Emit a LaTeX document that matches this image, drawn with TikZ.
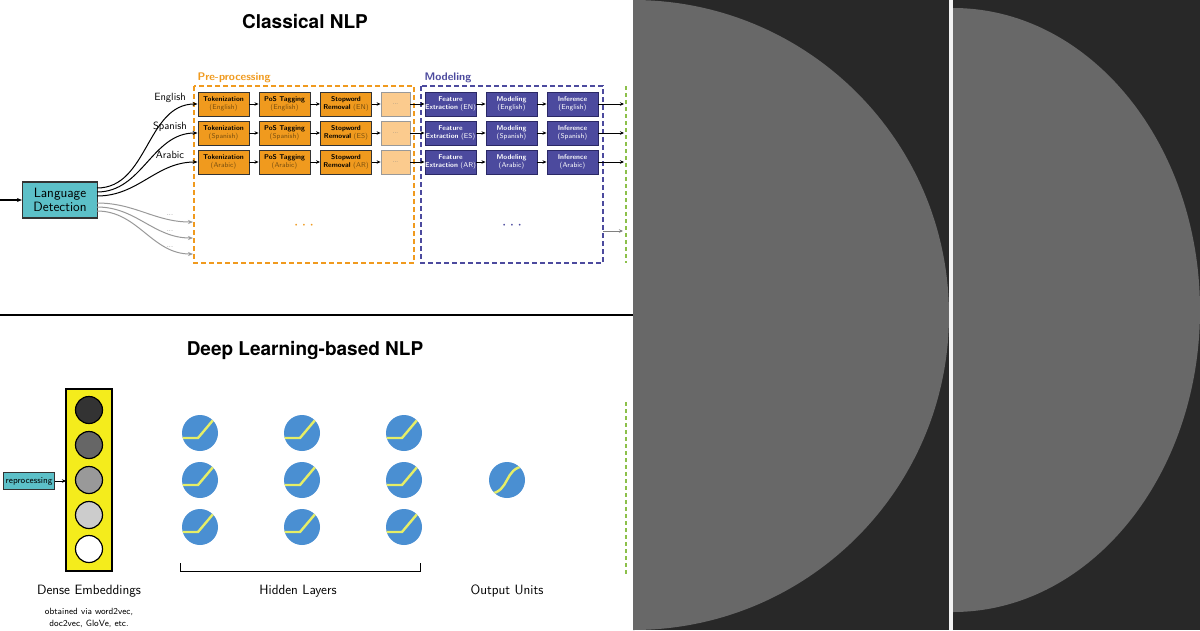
\documentclass[tikz,border=0pt]{standalone}
\usepackage{fontspec}
\newfontfamily\heros{TeX Gyre Heros}
\usetikzlibrary{arrows.meta,calc,backgrounds}
\definecolor{orA}{HTML}{F09A1E}
\definecolor{orB}{HTML}{FBCB8E}
\definecolor{orT}{HTML}{7A5010}
\definecolor{nav}{HTML}{4C4A9E}
\definecolor{navD}{HTML}{2A2866}
\definecolor{teal}{HTML}{5CC0C8}
\definecolor{blu}{HTML}{4A8FD2}
\definecolor{yel}{HTML}{E6EE66}
\definecolor{ybox}{HTML}{F4EC1C}
\definecolor{grn}{HTML}{8CC04A}
\definecolor{dk}{HTML}{282828}
\definecolor{mg}{HTML}{686868}
\tikzset{
 pre/.style={draw=black!80,line width=0.9pt,fill=orA,minimum width=51pt,minimum height=24pt,inner sep=0pt,align=center,font=\sffamily\fontsize{7}{8}\selectfont},
 dots/.style={draw=black!40,line width=0.8pt,fill=orB,minimum width=29pt,minimum height=24pt,inner sep=0pt,font=\sffamily\fontsize{6}{7}\selectfont,text=black!50},
 mod/.style={draw=navD,line width=0.9pt,fill=nav,minimum width=51pt,minimum height=24pt,inner sep=0pt,align=center,text=white,font=\sffamily\fontsize{7}{8}\selectfont},
 ar/.style={-{Stealth[length=4pt,width=3.5pt]},line width=0.7pt},
 cur/.style={-{Stealth[length=5pt,width=4pt]},line width=1pt},
 gcur/.style={cur,draw=black!40},
 lab/.style={font=\sffamily\fontsize{10.5}{11}\selectfont},
 big/.style={font=\sffamily\fontsize{13.5}{14}\selectfont},
 emb/.style={circle,draw=black,line width=1.2pt,minimum size=27pt,inner sep=0pt},
 hid/.style={circle,fill=blu,minimum size=36pt,inner sep=0pt},
 nl/.style={line width=1.1pt},
}
\newcommand{\sub}[1]{\textcolor{orT}{\normalfont\sffamily(#1)}}
\begin{document}
\begin{tikzpicture}[x=1pt,y=-1pt]
\useasboundingbox (0,0) rectangle (1200,630);
\fill[white] (0,0) rectangle (633,630);
% right dark panel
\fill[dk] (633,0) rectangle (1200,630);
\begin{scope}
\clip (633,0) rectangle (949,630);
\fill[mg] (633,315) ellipse[x radius=316,y radius=315];
\end{scope}
\begin{scope}
\clip (953,0) rectangle (1200,630);
\fill[mg] (953,310) ellipse[x radius=247,y radius=302];
\end{scope}
\fill[white!90!gray] (949,0) rectangle (953,630);

% ---------- Classical NLP
\node[font=\heros\bfseries\fontsize{19}{22}\selectfont] (t1) at (305,22) {Classical NLP};
\draw[orA,line width=1.3pt,dash pattern=on 5pt off 3pt] (194,86) rectangle (414,263);
\draw[nav,line width=1.3pt,dash pattern=on 5pt off 3pt] (421,86) rectangle (603,263);
\draw[grn,line width=1.1pt,dash pattern=on 4pt off 3pt] (626,86) -- (626,263);
\node[anchor=west,text=orA,font=\sffamily\bfseries\fontsize{11}{12}\selectfont] (lp) at (194,78) {Pre-processing};
\node[anchor=west,text=nav,font=\sffamily\bfseries\fontsize{11}{12}\selectfont] (lm) at (421,78) {Modeling};

\node[draw=black!80,line width=1.2pt,fill=teal,minimum width=75pt,minimum height=36pt,align=center,inner sep=0pt,font=\sffamily\fontsize{13.5}{14}\selectfont] (ld) at (60,200) {Language\\Detection};
\coordinate (in0) at (0,200);
\draw[cur,line width=1.4pt] (in0) -- (ld.west);

\foreach \r/\y/\L/\s/\S in {1/104/English/EN/English,2/133/Spanish/ES/Spanish,3/162/Arabic/AR/Arabic}{
 \node[pre] (tok\r) at (223.5,\y) {\textbf{Tokenization}\\\sub{\S}};
 \node[pre] (pos\r) at (284.5,\y) {\textbf{PoS Tagging}\\\sub{\S}};
 \node[pre] (sw\r) at (346,\y) {\textbf{Stopword}\\\textbf{Removal} \sub{\s}};
 \node[dots] (d\r) at (395.5,\y) {...};
 \node[mod] (fe\r) at (450.5,\y) {\textbf{Feature}\\\textbf{Extraction} (\s)};
 \node[mod] (mo\r) at (511.5,\y) {\textbf{Modeling}\\(\S)};
 \node[mod] (inf\r) at (572.5,\y) {\textbf{Inference}\\(\S)};
 \coordinate (o\r) at (624,\y);
 \draw[ar] (tok\r) -- (pos\r);
 \draw[ar] (pos\r) -- (sw\r);
 \draw[ar] (sw\r) -- (d\r);
 \draw[ar] (d\r) -- (fe\r);
 \draw[ar] (fe\r) -- (mo\r);
 \draw[ar] (mo\r) -- (inf\r);
 \draw[ar] (inf\r) -- (o\r);
}
\coordinate (s1) at (97,188);\coordinate (s2) at (97,192);\coordinate (s3) at (97,196);
\draw[cur] (s1) to[out=0,in=180] (tok1.west);
\draw[cur] (s2) to[out=0,in=180] (tok2.west);
\draw[cur] (s3) to[out=0,in=180] (tok3.west);
\node[lab] (le) at (170,98) {English};
\node[lab] (ls) at (170,127) {Spanish};
\node[lab] (la) at (170,155) {Arabic};
\foreach \i/\ys/\ye in {1/203/222,2/207/238,3/211/254}{
 \coordinate (gs\i) at (97,\ys);
 \coordinate (ge\i) at (193,\ye);
 \draw[gcur] (gs\i) to[out=0,in=180] (ge\i);
 \node[text=black!50,font=\sffamily\fontsize{7}{8}\selectfont] (gl\i) at (170,\ye-7) {...};
}
\node[text=orA,font=\bfseries\fontsize{18}{18}\selectfont] (pd) at (304,226) {$\cdots$};
\node[text=nav,font=\bfseries\fontsize{18}{18}\selectfont] (md) at (512,226) {$\cdots$};
\coordinate (ma) at (603,231);\coordinate (mb) at (623,231);
\draw[ar,draw=black!50] (ma) -- (mb);

% separator
\draw[line width=1.3pt] (0,315) -- (633,315);

% ---------- Deep Learning NLP
\node[font=\heros\bfseries\fontsize{19}{22}\selectfont] (t2) at (305,350) {Deep Learning-based NLP};
\node[draw=black!80,line width=1pt,fill=teal,anchor=east,minimum height=17pt,inner sep=2pt,font=\sffamily\fontsize{9}{9}\selectfont] (pp) at (55,481) {reprocessing};
\fill[ybox,draw=black,line width=1.3pt] (66,389) rectangle (112,571);
\foreach \i/\y/\c in {1/410/black!80,2/445/black!60,3/480/black!40,4/515/black!20,5/549/white}
 \node[emb,fill=\c] (e\i) at (89,\y) {};
\draw[ar,line width=1pt] (pp) -- (66,481);

\foreach \c/\x in {1/200,2/302,3/404}
 \foreach \r/\y in {1/433,2/480,3/527}
  \node[hid] (h\c\r) at (\x,\y) {};
\node[hid] (out) at (507,480) {};

\begin{scope}[on background layer]
\foreach \i in {1,...,5} \foreach \r in {1,2,3} \draw[nl] (e\i) -- (h1\r.center);
\foreach \a in {1,2,3} \foreach \b in {1,2,3} {\draw[nl] (h1\a.center) -- (h2\b.center); \draw[nl] (h2\a.center) -- (h3\b.center);}
\foreach \a in {1,2,3} \draw[nl] (h3\a.center) -- (out.center);
\foreach \i/\y in {1/420,2/451,3/480,4/508,5/536} {\coordinate (oc\i) at (632,\y); \draw[nl] (out.center) -- (oc\i);}
\coordinate (oc6) at (632,566);
\draw[nl,draw=black!35] (out.center) -- (oc6);
\end{scope}
\draw[grn,line width=1.1pt,dash pattern=on 4pt off 3pt] (626,402) -- (626,575);

% activation glyphs
\foreach \c in {1,2,3} \foreach \r in {1,2,3} {
 \begin{scope}
 \clip (h\c\r) circle (18);
 \draw[yel,line width=2.4pt] ($(h\c\r)+(-20,5)$) -- ($(h\c\r)+(-2,5)$) -- ($(h\c\r)+(14,-14)$);
 \end{scope}
}
\begin{scope}
\clip (out) circle (18);
\draw[yel,line width=2.4pt] ($(out)+(-18,14)$) .. controls ($(out)+(4,12)$) and ($(out)+(-4,-12)$) .. ($(out)+(18,-14)$);
\end{scope}

\draw[line width=1pt] (180,563) -- (180,571) -- (420,571) -- (420,563);
\node[big] (l1) at (89,591) {Dense Embeddings};
\node[align=center,font=\sffamily\fontsize{9}{11.5}\selectfont] (l2) at (89,618) {obtained via word2vec,\\doc2vec, GloVe, etc.};
\node[big] (l3) at (298,591) {Hidden Layers};
\node[big] (l4) at (507,591) {Output Units};
\end{tikzpicture}
\end{document}
